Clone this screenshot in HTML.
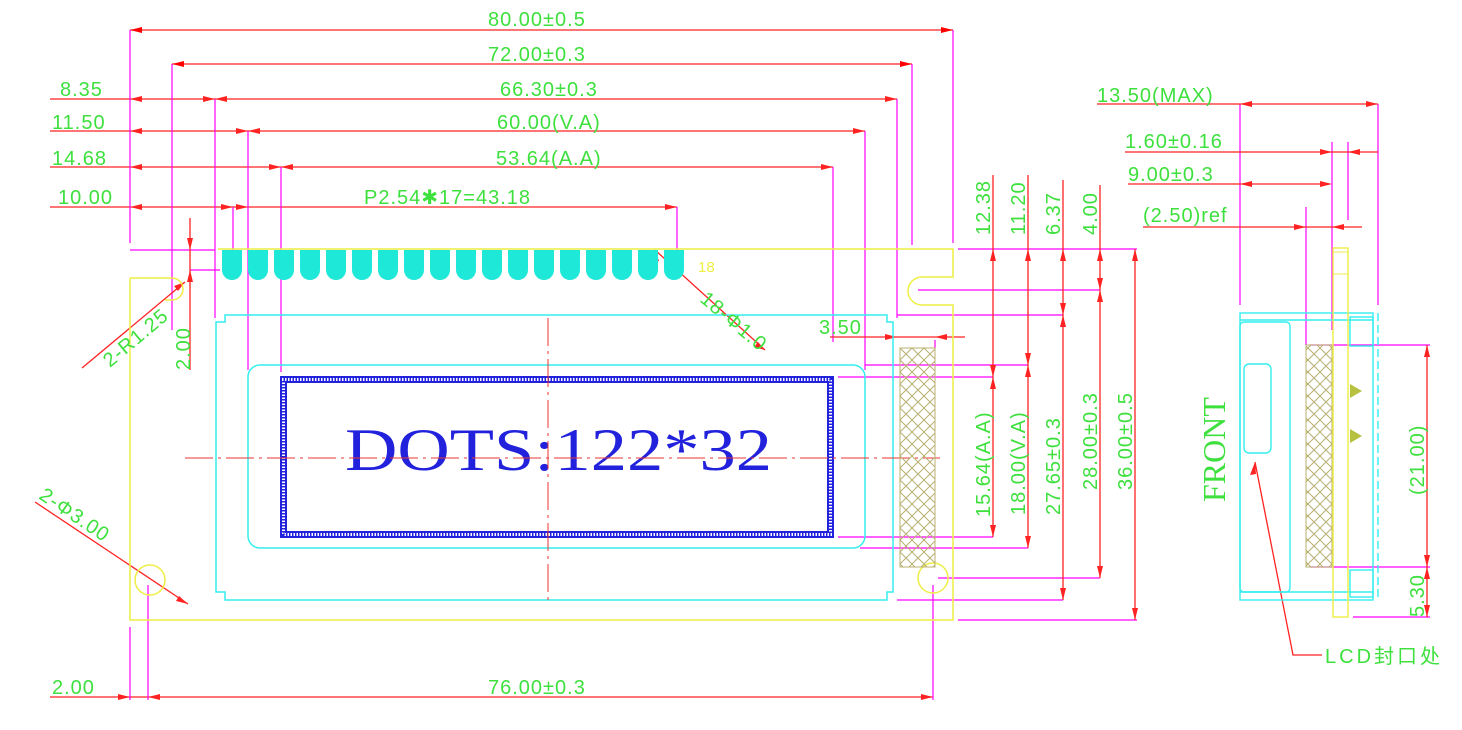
<!DOCTYPE html>
<html><head><meta charset="utf-8"><style>
html,body{margin:0;padding:0;background:#fff}
svg{display:block}
text{font-family:"Liberation Sans","Noto Sans CJK SC",sans-serif;fill:#3ee03e}
</style></head><body>
<svg width="1462" height="730" viewBox="0 0 1462 730" xmlns="http://www.w3.org/2000/svg">
<defs>
<marker id="a" viewBox="0 0 12 6" refX="12" refY="3" markerWidth="12" markerHeight="6" orient="auto" markerUnits="userSpaceOnUse"><path d="M0,0 L12,3 L0,6z" fill="#f00"/></marker>
<marker id="b" viewBox="0 0 12 6" refX="0" refY="3" markerWidth="12" markerHeight="6" orient="auto" markerUnits="userSpaceOnUse"><path d="M12,0 L0,3 L12,6z" fill="#f00"/></marker>
<pattern id="h" width="12" height="12" patternUnits="userSpaceOnUse"><path d="M0,0L12,12M12,0L0,12" stroke="#b8b070" stroke-width="1"/></pattern>
</defs>

<g stroke="#f22" stroke-width="1.3" fill="none">
<line x1="130" y1="30" x2="953" y2="30" marker-start="url(#b)" marker-end="url(#a)"/>
<line x1="172" y1="64" x2="912" y2="64" marker-start="url(#b)" marker-end="url(#a)"/>
<line x1="50" y1="99" x2="897" y2="99"/>
<line x1="50" y1="131" x2="865" y2="131"/>
<line x1="50" y1="167" x2="833" y2="167"/>
<line x1="50" y1="207" x2="677" y2="207"/>
<line x1="50" y1="697" x2="933" y2="697"/>
</g>
<g fill="#f22">
<path d="M130,99l12,-3v6z M215,99l-12,-3v6z M215,99l12,-3v6z M897,99l-12,-3v6z"/>
<path d="M130,131l12,-3v6z M248,131l-12,-3v6z M248,131l12,-3v6z M865,131l-12,-3v6z"/>
<path d="M130,167l12,-3v6z M281,167l-12,-3v6z M281,167l12,-3v6z M833,167l-12,-3v6z"/>
<path d="M130,207l12,-3v6z M233,207l-12,-3v6z M248,207l-12,-3v6z M677,207l-12,-3v6z"/>
<path d="M130,697l-12,-3v6z M148,697l12,-3v6z M933,697l-12,-3v6z"/>
</g>
<g stroke="#f0f" stroke-width="1.2">
<line x1="130" y1="30" x2="130" y2="243"/>
<line x1="172" y1="64" x2="172" y2="330"/>
<line x1="215" y1="99" x2="215" y2="318"/>
<line x1="248" y1="131" x2="248" y2="370"/>
<line x1="281" y1="167" x2="281" y2="372"/>
<line x1="233" y1="207" x2="233" y2="250"/>
<line x1="677" y1="207" x2="677" y2="250"/>
<line x1="953" y1="30" x2="953" y2="243"/>
<line x1="912" y1="64" x2="912" y2="245"/>
<line x1="897" y1="99" x2="897" y2="318"/>
<line x1="865" y1="131" x2="865" y2="370"/>
<line x1="833" y1="167" x2="833" y2="342"/>
<line x1="130" y1="627" x2="130" y2="700"/>
<line x1="148" y1="585" x2="148" y2="700"/>
<line x1="933" y1="585" x2="933" y2="700"/>
<line x1="130" y1="250" x2="215" y2="250"/>
<line x1="190" y1="270" x2="220" y2="270"/>
<line x1="958" y1="249" x2="1137" y2="249"/>
<line x1="918" y1="290" x2="1100" y2="290"/>
<line x1="897" y1="315" x2="1063" y2="315"/>
<line x1="865" y1="365" x2="1028" y2="365"/>
<line x1="838" y1="377" x2="993" y2="377"/>
<line x1="838" y1="537" x2="993" y2="537"/>
<line x1="860" y1="548" x2="1028" y2="548"/>
<line x1="938" y1="578" x2="1100" y2="578"/>
<line x1="897" y1="600" x2="1063" y2="600"/>
<line x1="958" y1="620" x2="1137" y2="620"/>
<line x1="935" y1="340" x2="935" y2="348"/>
<line x1="1240" y1="104" x2="1240" y2="305"/>
<line x1="1378" y1="104" x2="1378" y2="305"/>
<line x1="1332" y1="142" x2="1332" y2="330"/>
<line x1="1348" y1="142" x2="1348" y2="220"/>
<line x1="1306" y1="207" x2="1306" y2="345"/>
<line x1="1310" y1="345" x2="1430" y2="345"/>
<line x1="1310" y1="567" x2="1430" y2="567"/>
<line x1="1353" y1="617" x2="1430" y2="617"/>
</g>
<g stroke="#f22" stroke-width="1.3">
<line x1="993" y1="175" x2="993" y2="537"/>
<line x1="1028" y1="175" x2="1028" y2="548"/>
<line x1="1063" y1="180" x2="1063" y2="600"/>
<line x1="1100" y1="185" x2="1100" y2="578"/>
<line x1="1135" y1="249" x2="1135" y2="620"/>
<line x1="830" y1="337" x2="965" y2="337"/>
<line x1="1097" y1="104" x2="1378" y2="104"/>
<line x1="1125" y1="152" x2="1378" y2="152"/>
<line x1="1128" y1="184" x2="1330" y2="184"/>
<line x1="1143" y1="227" x2="1362" y2="227"/>
<line x1="1427" y1="345" x2="1427" y2="617"/>
<line x1="190" y1="218" x2="190" y2="370"/>
<line x1="82" y1="368" x2="185" y2="282"/>
<line x1="35" y1="502" x2="188" y2="604"/>
<line x1="655" y1="250" x2="765" y2="350"/>
<polyline points="1255,462 1293,655 1322,655" fill="none"/>
</g>
<g fill="#f22">
<path d="M993,249l-3,12h6z M993,377l-3,-12h6z M993,377l-3,12h6z M993,537l-3,-12h6z"/>
<path d="M1028,249l-3,12h6z M1028,365l-3,-12h6z M1028,365l-3,12h6z M1028,548l-3,-12h6z"/>
<path d="M1063,249l-3,12h6z M1063,315l-3,-12h6z M1063,315l-3,12h6z M1063,600l-3,-12h6z"/>
<path d="M1100,249l-3,12h6z M1100,290l-3,-12h6z M1100,290l-3,12h6z M1100,578l-3,-12h6z"/>
<path d="M1135,249l-3,12h6z M1135,620l-3,-12h6z"/>
<path d="M897,337l-12,-3v6z M935,337l12,-3v6z"/>
<path d="M1240,104l12,-3v6z M1378,104l-12,-3v6z M1332,152l-12,-3v6z M1348,152l12,-3v6z"/>
<path d="M1240,184l12,-3v6z M1332,184l-12,-3v6z M1306,227l-12,-3v6z M1332,227l12,-3v6z"/>
<path d="M1427,345l-3,12h6z M1427,567l-3,-12h6z M1427,567l-3,12h6z M1427,617l-3,-12h6z"/>
<path d="M190,250l-3,-12h6z M190,270l-3,12h6z"/>
<path d="M185,282l-11,4l4,5z M188,604l-12,-3l3,-5z M765,350l-11,-3l4,-5z M655,250l4,11l-5,2z M1255,462l1,12l-6,1z"/>
</g>

<g stroke="#ee4" stroke-width="1.5" fill="none">
<path d="M130,278 V620 H953 V305 H922 A14,14 0 0 1 922,277 H953 V249 H218"/>
<path d="M130,278 H172 A10,10 0 0 1 172,300 H165"/>
<circle cx="150" cy="580" r="15"/>
<circle cx="933" cy="578" r="15"/>
</g>
<g stroke="#3ee" stroke-width="1.5" fill="none">
<path d="M225,315 H887 V322 H893 V592 H887 V600 H225 V592 H216 V322 H225z"/>
<rect x="248" y="365" width="617" height="183" rx="12"/>
</g>
<g fill="none" stroke="#22d">
<rect x="281" y="377" width="552" height="160" stroke-width="2"/>
<rect x="286" y="382" width="542" height="150" stroke-width="2"/>
<rect x="283.5" y="379.5" width="547" height="155" stroke-width="4" stroke-dasharray="1.5 1.5"/>
</g>
<text x="345" y="470" textLength="427" lengthAdjust="spacingAndGlyphs" style="font-family:'Liberation Serif',serif;fill:#22d;font-size:60px;text-shadow:0 0 10px #fff">DOTS:122*32</text>
<g stroke="#e33" stroke-width="1" stroke-dasharray="28 5 3 5">
<line x1="185" y1="458" x2="940" y2="458"/>
<line x1="548" y1="318" x2="548" y2="600"/>
</g>
<g fill="#1ee8d8">
<path id="p" d="M222,250 h20 v20 a10,10 0 0 1 -20,0z"/>
<use href="#p" x="26"/><use href="#p" x="52"/><use href="#p" x="78"/><use href="#p" x="104"/><use href="#p" x="130"/><use href="#p" x="156"/><use href="#p" x="182"/><use href="#p" x="208"/><use href="#p" x="234"/><use href="#p" x="260"/><use href="#p" x="286"/><use href="#p" x="312"/><use href="#p" x="338"/><use href="#p" x="364"/><use href="#p" x="390"/><use href="#p" x="416"/><use href="#p" x="442"/>
</g>
<text x="698" y="272" style="fill:#ee4;font-size:15px">18</text>
<rect x="900" y="348" width="35" height="219" fill="url(#h)" stroke="#b8b070"/>

<g stroke="#3ee" stroke-width="1.4" fill="none">
<rect x="1240" y="313" width="133" height="287"/>
<line x1="1240" y1="320" x2="1373" y2="320"/>
<line x1="1240" y1="592" x2="1373" y2="592"/>
<rect x="1240" y="322" width="50" height="270" rx="4"/>
<rect x="1244" y="364" width="27" height="89" rx="5"/>
<rect x="1350" y="317" width="23" height="29"/>
<rect x="1350" y="570" width="23" height="27"/>
<line x1="1378" y1="313" x2="1378" y2="600" stroke-dasharray="8 4"/>
</g>
<rect x="1306" y="345" width="26" height="222" fill="url(#h)" stroke="#b8b070"/>
<rect x="1333" y="248" width="15" height="369" fill="none" stroke="#ee4" stroke-width="1.4"/>
<g stroke="#ee4"><line x1="1333" y1="252" x2="1348" y2="252"/><line x1="1333" y1="274" x2="1348" y2="274"/></g>
<g fill="#b8c040"><path d="M1350,384 l12,7 l-12,7z M1350,429 l12,7 l-12,7z"/></g>

<g style="font-size:20px;letter-spacing:1px">
<text x="488" y="26">80.00±0.5</text>
<text x="488" y="61">72.00±0.3</text>
<text x="500" y="96">66.30±0.3</text>
<text x="497" y="129">60.00(V.A)</text>
<text x="496" y="165">53.64(A.A)</text>
<text x="364" y="204">P2.54✱17=43.18</text>
<text x="60" y="96">8.35</text>
<text x="52" y="129">11.50</text>
<text x="52" y="165">14.68</text>
<text x="58" y="204">10.00</text>
<text x="52" y="694">2.00</text>
<text x="488" y="694">76.00±0.3</text>
<text x="819" y="334">3.50</text>
<text x="1097" y="102">13.50(MAX)</text>
<text x="1125" y="148">1.60±0.16</text>
<text x="1128" y="181">9.00±0.3</text>
<text x="1143" y="222">(2.50)ref</text>
<text transform="translate(110,368) rotate(-40)">2-R1.25</text>
<text transform="translate(760,352) rotate(40)" text-anchor="end">18-Φ1.0</text>
<text transform="translate(38,498) rotate(34)">2-Φ3.00</text>
<text transform="translate(190,370) rotate(-90)">2.00</text>
<text transform="translate(990,235) rotate(-90)">12.38</text>
<text transform="translate(1025,235) rotate(-90)">11.20</text>
<text transform="translate(1060,235) rotate(-90)">6.37</text>
<text transform="translate(1097,235) rotate(-90)">4.00</text>
<text transform="translate(990,517) rotate(-90)">15.64(A.A)</text>
<text transform="translate(1025,515) rotate(-90)">18.00(V.A)</text>
<text transform="translate(1060,515) rotate(-90)">27.65±0.3</text>
<text transform="translate(1097,490) rotate(-90)">28.00±0.3</text>
<text transform="translate(1132,490) rotate(-90)">36.00±0.5</text>
<text transform="translate(1424,495) rotate(-90)">(21.00)</text>
<text transform="translate(1424,617) rotate(-90)">5.30</text>
<text x="1325" y="663" style="letter-spacing:3px">LCD封口处</text>
</g>
<text transform="translate(1225,502) rotate(-90)" style="font-family:'Liberation Serif',serif;font-size:32px;fill:#3ee03e">FRONT</text>
</svg>
</body></html>
